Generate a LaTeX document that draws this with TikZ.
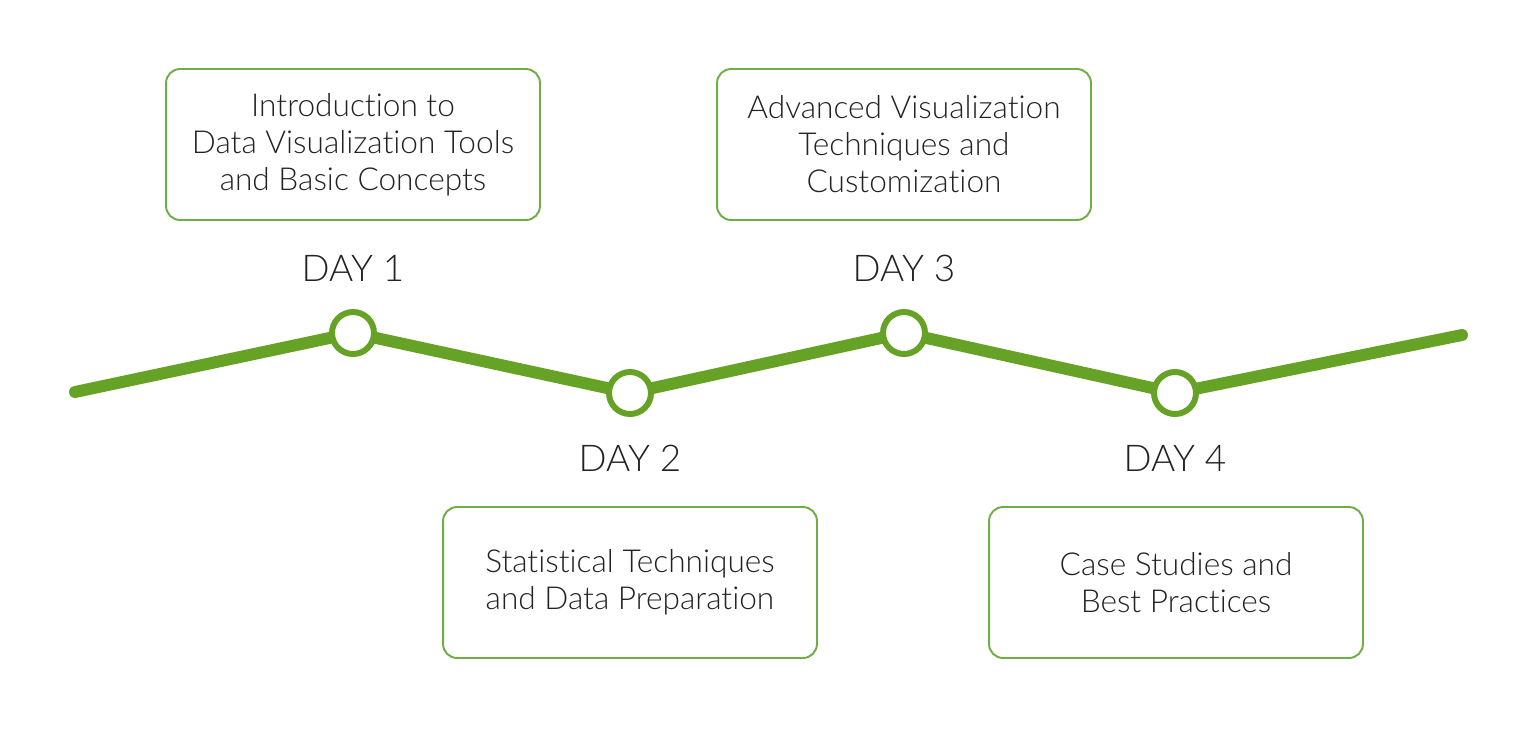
\documentclass[tikz,border=0pt]{standalone}
\usepackage{fontspec}
\setmainfont{Lato}[UprightFont=* Light, Ligatures=NoCommon]
\usepackage{tikz}
\usetikzlibrary{positioning,backgrounds}
\definecolor{linecolor}{RGB}{101, 162, 38}
\definecolor{boxcolor}{RGB}{112, 173, 71}
\definecolor{labelcolor}{RGB}{34, 34, 34}
\tikzset{
blocktext/.style={
  align=center,
  font=\fontsize{18}{21}\selectfont,
  text=labelcolor
},
topicblock/.style={
  draw=boxcolor,
  line width=1.1pt,
  rounded corners=8pt,
  fill=white,
  minimum height=3.02cm,
  minimum width=7.48cm,
  blocktext
},
daylabel/.style={
  font=\fontsize{21}{25}\selectfont,
  text=labelcolor
},
daydot/.style={
  circle,
  draw=linecolor,
  line width=3.4pt,
  fill=white,
  minimum size=0.84cm,
  inner sep=0pt
},
trackline/.style={
  draw=linecolor,
  line width=6.8pt,
  line cap=round
}
}

\begin{document}
\begin{tikzpicture}[x=0.02cm,y=-0.02cm]
      \useasboundingbox (0,0) rectangle (1536,735);
      % timeline dots
      \coordinate (start) at (75,392);
      \coordinate (finish) at (1462,335);
      \node[daydot] (d1) at (353,333) {};
      \node[daydot] (d2) at (630,393) {};
      \node[daydot] (d3) at (904,333) {};
      \node[daydot] (d4) at (1175,393) {};
      \begin{scope}[on background layer]
        \draw[trackline] (start) -- (d1.center) -- (d2.center) -- (d3.center) -- (d4.center) -- (finish);
      \end{scope}
      % day labels
      \node[daylabel] (l1) at (353,268) {DAY 1};
      \node[daylabel] (l2) at (630,458) {DAY 2};
      \node[daylabel] (l3) at (904,268) {DAY 3};
      \node[daylabel] (l4) at (1175,458) {DAY 4};
      % topic boxes
      \node[topicblock] (b1) at (353,144.5) {Introduction to\\Data Visualization Tools\\and Basic Concepts};
      \node[topicblock] (b2) at (630,582.5) {Statistical Techniques\\and Data Preparation};
      \node[topicblock] (b3) at (904,144.5) {Advanced Visualization\\Techniques and\\Customization};
      \node[topicblock] (b4) at (1176,582.5) {Case Studies and\\Best Practices};
    \end{tikzpicture}
\end{document}
